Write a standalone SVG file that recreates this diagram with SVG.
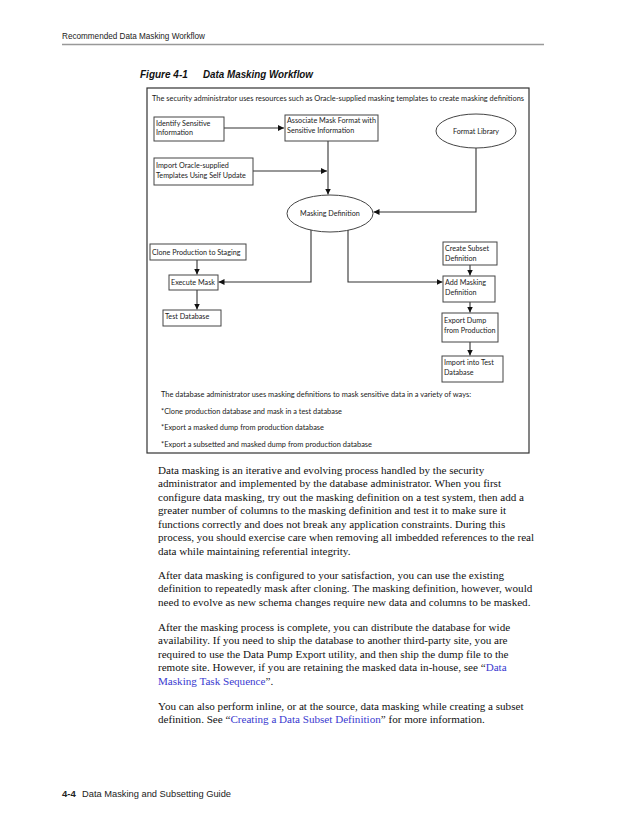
<svg xmlns="http://www.w3.org/2000/svg" width="638" height="826" viewBox="0 0 638 826">
<style>
.d{font-family:Lato,"Liberation Sans",sans-serif;font-size:7.2px;fill:#222}
.b{font-family:"Liberation Serif",serif;font-size:11.1px;fill:#111}
.lk{fill:#3a3ad0}
.box{fill:#fff;stroke:#444;stroke-width:1}
.el{fill:#fff;stroke:#444;stroke-width:1}
.cn{fill:none;stroke:#333;stroke-width:1.1}
</style>
<defs>
<marker id="ah" markerUnits="userSpaceOnUse" markerWidth="7" markerHeight="6" refX="6" refY="3" orient="auto">
<path d="M0,0 L6,3 L0,6 z" fill="#111"/>
</marker>
</defs>
<rect width="638" height="826" fill="#fff"/>
<g id="page-header">
<text x="62" y="39" font-family="Liberation Sans,sans-serif" font-size="9.5" fill="#222" textLength="143" lengthAdjust="spacingAndGlyphs">Recommended Data Masking Workflow</text>
<line x1="62" y1="44.5" x2="544" y2="44.5" stroke="#999" stroke-width="1.5"/>
</g>
<g id="figure-title" font-family="Liberation Sans,sans-serif" font-size="10" font-weight="bold" font-style="italic" fill="#111">
<text x="140" y="78">Figure 4-1</text>
<text x="203" y="78" textLength="110" lengthAdjust="spacingAndGlyphs">Data Masking Workflow</text>
</g>
<g id="frame">
<rect x="147" y="88" width="382" height="365" fill="#fff" stroke="#333" stroke-width="1.2"/>
<text class="d" x="152" y="101" textLength="372" lengthAdjust="spacingAndGlyphs">The security administrator uses resources such as Oracle-supplied masking templates to create masking definitions</text>
</g>
<g id="connectors">
<path class="cn" d="M224,128 L284,128" marker-end="url(#ah)"/>
<path class="cn" d="M253,171 L327,171" marker-end="url(#ah)"/>
<path class="cn" d="M328,141 L328,194.5" marker-end="url(#ah)"/>
<path class="cn" d="M476,148 L476,212 L373.5,212" marker-end="url(#ah)"/>
<path class="cn" d="M311,229 L311,282 L218.5,282" marker-end="url(#ah)"/>
<path class="cn" d="M348,229 L348,282 L442.5,282" marker-end="url(#ah)"/>
<path class="cn" d="M197,260 L197,274.5" marker-end="url(#ah)"/>
<path class="cn" d="M197,290 L197,309.5" marker-end="url(#ah)"/>
<path class="cn" d="M470,265 L470,275.5" marker-end="url(#ah)"/>
<path class="cn" d="M470,302 L470,312.5" marker-end="url(#ah)"/>
<path class="cn" d="M470,342 L470,355.5" marker-end="url(#ah)"/>
</g>
<g id="identify">
<rect class="box" x="154" y="117" width="70" height="24"/>
<text class="d" x="156" y="126">Identify Sensitive</text>
<text class="d" x="156" y="135">Information</text>
</g>
<g id="associate">
<rect class="box" x="285" y="115" width="93" height="26"/>
<text class="d" x="287" y="123">Associate Mask Format with</text>
<text class="d" x="287" y="133">Sensitive Information</text>
</g>
<g id="format-library">
<ellipse class="el" cx="476" cy="131" rx="40" ry="17"/>
<text class="d" x="476" y="133.5" text-anchor="middle">Format Library</text>
</g>
<g id="import-templates">
<rect class="box" x="154" y="158" width="99" height="27"/>
<text class="d" x="156" y="167.5">Import Oracle-supplied</text>
<text class="d" x="156" y="177.5">Templates Using Self Update</text>
</g>
<g id="masking-definition">
<ellipse class="el" cx="330" cy="213.5" rx="43" ry="18.5"/>
<text class="d" x="330" y="216" text-anchor="middle">Masking Definition</text>
</g>
<g id="clone">
<rect class="box" x="150" y="244" width="96" height="16"/>
<text class="d" x="152" y="254.5">Clone Production to Staging</text>
</g>
<g id="execute-mask">
<rect class="box" x="169" y="275" width="49" height="15"/>
<text class="d" x="171" y="285">Execute Mask</text>
</g>
<g id="test-database">
<rect class="box" x="163" y="310" width="58" height="16"/>
<text class="d" x="165" y="319">Test Database</text>
</g>
<g id="create-subset">
<rect class="box" x="443" y="242" width="54" height="23"/>
<text class="d" x="445" y="251">Create Subset</text>
<text class="d" x="445" y="261">Definition</text>
</g>
<g id="add-masking">
<rect class="box" x="443" y="276" width="52" height="26"/>
<text class="d" x="445" y="285">Add Masking</text>
<text class="d" x="445" y="295">Definition</text>
</g>
<g id="export-dump">
<rect class="box" x="442" y="313" width="56" height="29"/>
<text class="d" x="444" y="322.5">Export Dump</text>
<text class="d" x="444" y="332.5">from Production</text>
</g>
<g id="import-test">
<rect class="box" x="442" y="356" width="61" height="26"/>
<text class="d" x="444" y="365">Import into Test</text>
<text class="d" x="444" y="375">Database</text>
</g>
<g id="dba-notes">
<text class="d" x="161" y="397" textLength="310" lengthAdjust="spacingAndGlyphs">The database administrator uses masking definitions to mask sensitive data in a variety of ways:</text>
<text class="d" x="161" y="413.5" textLength="181" lengthAdjust="spacingAndGlyphs">*Clone production database and mask in a test database</text>
<text class="d" x="161" y="430" textLength="163" lengthAdjust="spacingAndGlyphs">*Export a masked dump from production database</text>
<text class="d" x="161" y="446.5" textLength="211" lengthAdjust="spacingAndGlyphs">*Export a subsetted and masked dump from production database</text>
</g>
<g id="body-text">
<text class="b" x="158" y="473.5">Data masking is an iterative and evolving process handled by the security</text>
<text class="b" x="158" y="487">administrator and implemented by the database administrator. When you first</text>
<text class="b" x="158" y="500.5">configure data masking, try out the masking definition on a test system, then add a</text>
<text class="b" x="158" y="514">greater number of columns to the masking definition and test it to make sure it</text>
<text class="b" x="158" y="527.5">functions correctly and does not break any application constraints. During this</text>
<text class="b" x="158" y="541">process, you should exercise care when removing all imbedded references to the real</text>
<text class="b" x="158" y="554.5">data while maintaining referential integrity.</text>
<text class="b" x="158" y="578.5">After data masking is configured to your satisfaction, you can use the existing</text>
<text class="b" x="158" y="592">definition to repeatedly mask after cloning. The masking definition, however, would</text>
<text class="b" x="158" y="605.5">need to evolve as new schema changes require new data and columns to be masked.</text>
<text class="b" x="158" y="630.5">After the masking process is complete, you can distribute the database for wide</text>
<text class="b" x="158" y="644">availability. If you need to ship the database to another third-party site, you are</text>
<text class="b" x="158" y="657.5">required to use the Data Pump Export utility, and then ship the dump file to the</text>
<text class="b" x="158" y="671">remote site. However, if you are retaining the masked data in-house, see “<tspan class="lk">Data</tspan></text>
<text class="b" x="158" y="684.5"><tspan class="lk">Masking Task Sequence</tspan>”.</text>
<text class="b" x="158" y="709.5">You can also perform inline, or at the source, data masking while creating a subset</text>
<text class="b" x="158" y="723">definition. See “<tspan class="lk">Creating a Data Subset Definition</tspan>” for more information.</text>
</g>
<g id="page-footer" font-family="Liberation Sans,sans-serif" font-size="9.5" fill="#222">
<text x="62" y="797" font-weight="bold">4-4</text>
<text x="82" y="797" textLength="149" lengthAdjust="spacingAndGlyphs">Data Masking and Subsetting Guide</text>
</g>
</svg>
